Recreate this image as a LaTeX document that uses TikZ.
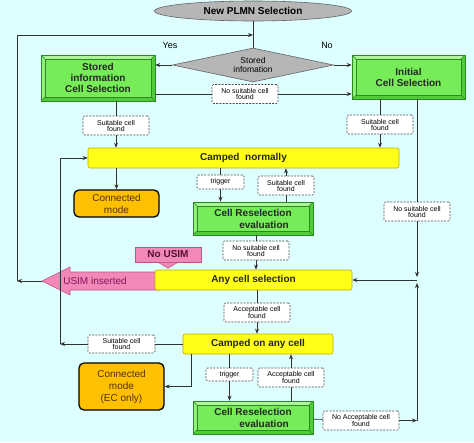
\documentclass[tikz,border=0pt]{standalone}
\usepackage{fontspec}
\setmainfont{Liberation Sans}
\usetikzlibrary{positioning,arrows.meta,shapes.geometric}
\definecolor{bgcyan}{RGB}{222,255,255}
\definecolor{grnedge}{RGB}{40,140,30}
\definecolor{grnmid}{RGB}{80,204,56}
\definecolor{grnlite}{RGB}{118,236,88}
\definecolor{ylwfill}{RGB}{255,255,24}
\definecolor{ylwedge}{RGB}{190,170,0}
\definecolor{orgfill}{RGB}{255,192,0}
\definecolor{orgtext}{RGB}{80,50,0}
\definecolor{pnkfill}{RGB}{240,136,184}
\definecolor{pnkedge}{RGB}{190,80,140}
\definecolor{pnktext}{RGB}{140,20,90}
\definecolor{gryfill}{RGB}{182,182,182}
\definecolor{gryedge}{RGB}{100,100,100}
\definecolor{lnclr}{RGB}{50,50,50}

\begin{document}
\begin{tikzpicture}[x=1pt,y=-1pt,>={Stealth[length=5pt,width=4pt]},
  flow/.style={draw=lnclr,line width=0.7pt},
  greyshape/.style={draw=gryedge,fill=gryfill,line width=0.6pt,inner sep=0pt,align=center},
  bevelbox/.style={draw=grnedge,fill=grnmid,line width=0.6pt,inner sep=0pt,align=center,
    font=\bfseries\fontsize{10}{11}\selectfont,text=black!85,
    path picture={
      \coordinate (bsw) at (path picture bounding box.south west);
      \coordinate (bne) at (path picture bounding box.north east);
      \coordinate (bnw) at (path picture bounding box.north west);
      \coordinate (bse) at (path picture bounding box.south east);
      \fill[grnlite!60!white] (bnw) -- (bne) -- ([shift={(-4pt,-4pt)}]bne) -- ([shift={(4pt,-4pt)}]bnw) -- cycle;
      \fill[grnlite!80!white] (bnw) -- (bsw) -- ([shift={(4pt,4pt)}]bsw) -- ([shift={(4pt,-4pt)}]bnw) -- cycle;
      \fill[grnlite,draw=grnedge,line width=0.4pt] ([shift={(4pt,4pt)}]bsw) rectangle ([shift={(-4pt,-4pt)}]bne);
      \draw[grnedge,line width=0.4pt] (bsw) -- ++(4pt,4pt) (bse) -- ++(-4pt,4pt)
        (bnw) -- ++(4pt,-4pt) (bne) -- ++(-4pt,-4pt);
    }},
  yellowbar/.style={draw=ylwedge,fill=ylwfill,rounded corners=2pt,line width=0.6pt,inner sep=0pt,
    font=\bfseries\fontsize{10}{12}\selectfont,text=black!85},
  orangebox/.style={draw=black,fill=orgfill,rounded corners=5pt,line width=1.3pt,inner sep=0pt,
    align=center,font=\fontsize{10}{12}\selectfont,text=orgtext},
  dashlbl/.style={draw=gray!60!black,fill=white,dash pattern=on 2pt off 1.3pt,rounded corners=1.5pt,
    line width=0.6pt,inner sep=0pt,align=center,font=\fontsize{7}{6}\selectfont}]

\fill[bgcyan] (0,0) rectangle (474,442);
\useasboundingbox (0,0) rectangle (474,442);

% top of the flow
\node[greyshape,ellipse,minimum width=197pt,minimum height=20pt,font=\bfseries\fontsize{10}{12}\selectfont] (plmn) at (253,11) {New PLMN Selection};
\node[greyshape,diamond,aspect=4.7,minimum width=161pt,minimum height=34pt,font=\fontsize{8.5}{9}\selectfont] (stored) at (253,65) {Stored\\infomation};
\node[font=\fontsize{9}{10}\selectfont] (yes) at (170,45) {Yes};
\node[font=\fontsize{9}{10}\selectfont] (no) at (327,45) {No};
\node[bevelbox,minimum width=114pt,minimum height=46pt] (sicell) at (98,78) {Stored\\information\\Cell Selection};
\node[bevelbox,minimum width=113pt,minimum height=44pt] (initcell) at (408.5,77) {Initial\\Cell Selection};
\node[dashlbl,minimum width=66pt,minimum height=19pt] (nosuit1) at (245,94) {No suitable cell\\found};
\node[dashlbl,minimum width=66pt,minimum height=19pt] (suitA) at (116,125.5) {Suitable cell\\found};
\node[dashlbl,minimum width=66pt,minimum height=19pt] (suitB) at (380,124.5) {Suitable cell\\found};
\node[dashlbl,minimum width=66pt,minimum height=19pt] (nosuitR) at (417,211.5) {No suitable cell\\found};
\coordinate (cornerL) at (17,35);
\coordinate (cornerM) at (60,158);

% camped normally
\node[yellowbar,minimum width=311pt,minimum height=20pt] (campnorm) at (243.5,158) {Camped~ normally};
\node[orangebox,minimum width=85pt,minimum height=27pt] (conn1) at (116.5,203.5) {Connected\\mode};
\node[dashlbl,minimum width=47pt,minimum height=14pt] (trig1) at (220.5,182) {trigger};
\node[dashlbl,minimum width=56pt,minimum height=19pt] (suitC) at (286,185.5) {Suitable cell\\found};
\node[bevelbox,minimum width=120pt,minimum height=33pt,font=\bfseries\fontsize{10}{12}\selectfont] (reseval1) at (253,218.5) {Cell Reselection\\\hspace*{2.2em}evaluation};
\node[dashlbl,minimum width=66pt,minimum height=19pt] (nosuitD) at (256,250.5) {No suitable cell\\found};

% any cell selection
\filldraw[fill=pnkfill,draw=pnkedge,line width=0.6pt] (160,272) -- (70,272) -- (70,267) -- (42,281)
  -- (70,295) -- (70,290) -- (160,290) -- cycle;
\coordinate (usimtip) at (42,281);
\node[text=pnktext,font=\fontsize{10}{12}\selectfont] (usim) at (95,281) {USIM inserted};
\node[draw=pnkedge,fill=pnkfill,line width=0.6pt,inner sep=0pt,minimum width=66pt,minimum height=15pt,
  font=\bfseries\fontsize{10}{12}\selectfont,text=pnktext!60!black] (nousim) at (168,254.5) {No USIM};
\filldraw[fill=pnkfill,draw=pnkedge,line width=0.5pt] (nousim.south) ++(-10,0) -- ++(20,0) -- ++(-10,6) -- cycle;
\node[yellowbar,minimum width=197pt,minimum height=20pt] (anycell) at (253.5,280) {Any cell selection};
\coordinate (rj) at (nosuitR |- anycell);
\node[dashlbl,minimum width=66pt,minimum height=19pt] (acc1) at (257,312.5) {Acceptable cell\\found};

% camped on any cell
\node[yellowbar,minimum width=150pt,minimum height=20pt] (campany) at (258,344) {Camped on any cell};
\node[dashlbl,minimum width=67pt,minimum height=18pt] (suitE) at (121.5,344) {Suitable cell\\found};
\node[orangebox,minimum width=85pt,minimum height=47pt] (conn2) at (121.5,386.5) {Connected\\mode\\(EC only)};
\node[dashlbl,minimum width=47pt,minimum height=13pt] (trig2) at (229.5,374.5) {trigger};
\node[dashlbl,minimum width=66pt,minimum height=19pt] (acc2) at (291,377.5) {Acceptable cell\\found};
\node[bevelbox,minimum width=120pt,minimum height=33pt,font=\bfseries\fontsize{10}{12}\selectfont] (reseval2) at (253,417.5) {Cell Reselection\\\hspace*{2.2em}evaluation};
\node[dashlbl,minimum width=76pt,minimum height=19pt] (noacc) at (361,420.5) {No Acceptable cell\\found};

% connectors
\draw[flow] (plmn) -- (stored);
\draw[flow,->] (cornerL |- usimtip) -- (cornerL) -- (cornerL -| stored);
\draw[flow,->] (usimtip) -- (usimtip -| cornerL);
\draw[flow,->] (stored.west) -- (stored.west -| sicell.east);
\draw[flow,->] (stored.east) -- (stored.east -| initcell.west);
\draw[flow] (sicell.east |- nosuit1) -- (nosuit1);
\draw[flow,->] (nosuit1) -- (nosuit1 -| initcell.west);
\draw[flow] (sicell.south -| suitA) -- (suitA);
\draw[flow,->] (suitA) -- (suitA |- campnorm.north);
\draw[flow] (initcell.south -| suitB) -- (suitB);
\draw[flow,->] (suitB) -- (suitB |- campnorm.north);
\draw[flow] (initcell.south -| nosuitR) -- (nosuitR);
\draw[flow,->] (nosuitR) -- ([yshift=3pt]rj);
\draw[flow,->] (rj) -- (anycell.east);
\draw[flow,->] (campnorm.south -| conn1) -- (conn1);
\draw[flow] (campnorm.south -| trig1) -- (trig1);
\draw[flow,->] (trig1) -- (trig1 |- reseval1.north);
\draw[flow] (reseval1.north -| suitC) -- (suitC);
\draw[flow,->] (suitC) -- (suitC |- campnorm.south);
\draw[flow] (reseval1.south -| nosuitD) -- (nosuitD);
\draw[flow,->] (nosuitD) -- (nosuitD |- anycell.north);
\draw[flow] (anycell.south -| acc1) -- (acc1);
\draw[flow,->] (acc1) -- (acc1 |- campany.north);
\draw[flow] (campany.west) -- (suitE);
\draw[flow,->] (suitE) -- (suitE -| cornerM);
\draw[flow,->] (suitE -| cornerM) -- (cornerM) -- (campnorm.west);
\draw[flow,->] (campany.south west) ++(9,0) |- (conn2.east);
\draw[flow] (campany.south -| trig2) -- (trig2);
\draw[flow,->] (trig2) -- (trig2 |- reseval2.north);
\draw[flow] (reseval2.north -| acc2) -- (acc2);
\draw[flow,->] (acc2) -- (acc2 |- campany.south);
\draw[flow] (reseval2) -- (noacc);
\draw[flow,->] (noacc) -- (noacc -| rj);
\draw[flow,->] (noacc -| rj) -- ([yshift=-3pt]rj);
\end{tikzpicture}
\end{document}
